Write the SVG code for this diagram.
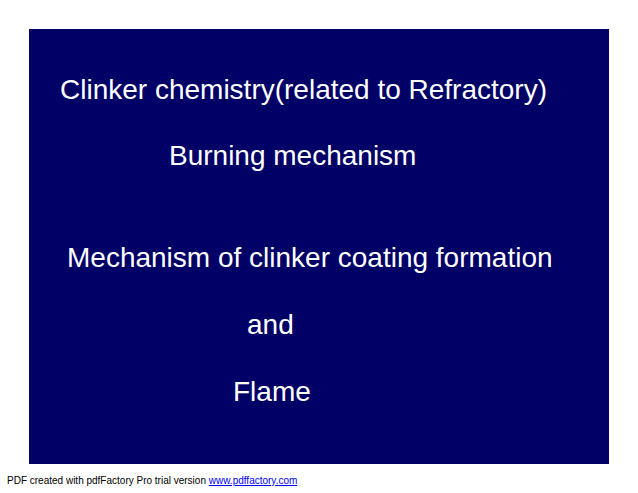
<svg xmlns="http://www.w3.org/2000/svg" width="638" height="493" viewBox="0 0 638 493">
<style>.t{font-family:"Liberation Sans",Arial,sans-serif;font-size:28px;fill:#fff}</style>
<rect width="638" height="493" fill="#fff"/>
<rect x="29" y="29" width="580" height="435" fill="#000066"/>
<text class="t" x="60" y="99">Clinker chemistry(related to Refractory)</text>
<text class="t" x="169" y="165">Burning mechanism</text>
<text class="t" x="67" y="267">Mechanism of clinker coating formation</text>
<text class="t" x="247" y="334">and</text>
<text class="t" x="233" y="401">Flame</text>
<text x="7" y="484" style="font-family:'Liberation Sans',Arial,sans-serif;font-size:10px;fill:#000">PDF created with pdfFactory Pro trial version <tspan fill="#0000ff" text-decoration="underline">www.pdffactory.com</tspan></text>
</svg>
